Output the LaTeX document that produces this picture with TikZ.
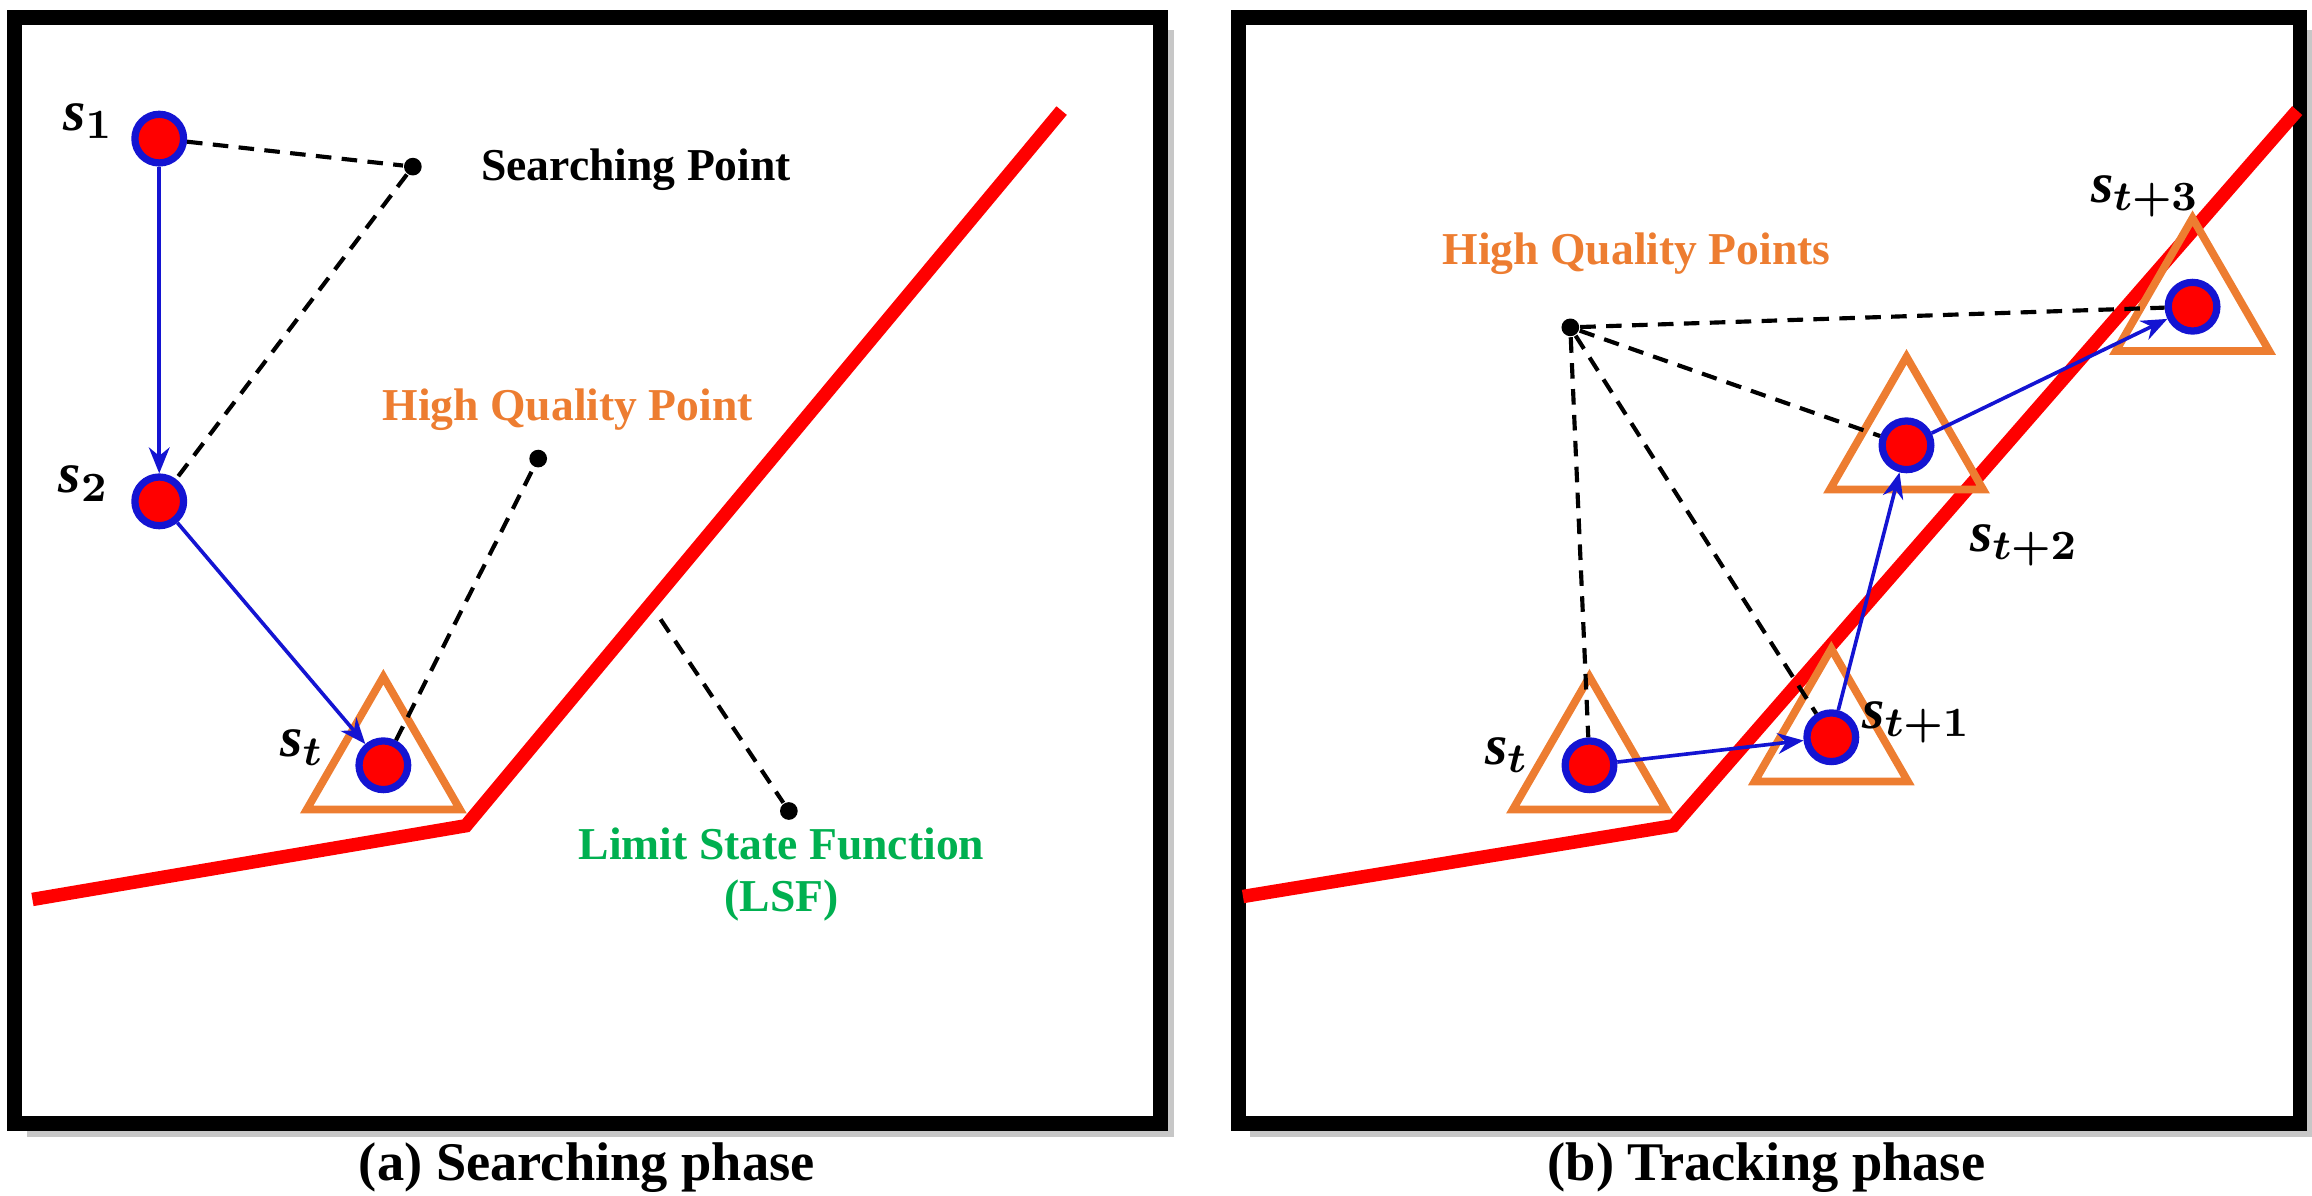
\documentclass[tikz,border=0pt]{standalone}
\usepackage{fontspec}
\setmainfont{Liberation Serif}
\usetikzlibrary{arrows.meta}
\usetikzlibrary{shapes.geometric}
\definecolor{lsfred}{RGB}{255,0,0}
\definecolor{ringblue}{RGB}{20,20,210}
\definecolor{hqorange}{RGB}{237,125,49}
\definecolor{lsfgreen}{RGB}{0,176,80}
\newcommand{\stt}[1]{\textbf{\textit{s}}$_{\boldsymbol{#1}}$}
\usepackage{amsmath}
\tikzset{
	>={Stealth[length=5pt,width=4pt]},
	%
	frame/.style={line width=2.8pt, draw=black},
	shadow/.style={line width=2.2pt, draw=black!22},
	lsf/.style={line width=2.6pt, lsfred},
	state/.style={circle, draw=ringblue, fill=lsfred, line width=1.4pt,
		minimum size=0.33cm, inner sep=0pt},
	hq/.style={regular polygon, regular polygon sides=3, draw=hqorange,
		line width=1.5pt, minimum size=1.2cm, inner sep=0pt},
	dot/.style={circle, fill=black, inner sep=0pt, minimum size=0.12cm},
	link/.style={line width=0.8pt, dash pattern=on 3pt off 2pt},
	move/.style={->, ringblue, line width=0.7pt},
	lbl/.style={font=\bfseries\fontsize{8.8}{10}\selectfont},
	sym/.style={font=\fontsize{11}{12}\selectfont},
	caption/.style={font=\bfseries\fontsize{10.5}{12}\selectfont},
}
\begin{document}
\begin{tikzpicture}[x=0.01cm, y=-0.01cm]
	\useasboundingbox (0,0) rectangle (1568,811);
	% (a) searching phase
	\draw [shadow] (18,767) -- (792,767) -- (792,20);
	\draw [frame] (10,12) rectangle (787,762);
	\draw [lsf] (22,610) -- (316,560) -- (720,75);
	\node (s1) [state] at (108,94) {};
	\node (s2) [state] at (108,340) {};
	\node (tri) [hq] at (260,519) {};
	\node (st) [state] at (260,519) {};
	\node (sp) [dot] at (280,113) {};
	\node (hp) [dot] at (365,311) {};
	\coordinate (lsfpt) at (448,420);
	\node (lp) [dot] at (535,550) {};
	\node [sym] at (60,82) {\stt{1}};
	\node [sym] at (57,328) {\stt{2}};
	\node [sym] at (205,507) {\stt{t}};
	\node [lbl, anchor=west] at (314,115) {Searching Point};
	\node [lbl, text=hqorange] at (385,278) {High Quality Point};
	\node [lbl, text=lsfgreen, align=center] at (530,593) {Limit State Function\\(LSF)};
	\draw [link] (s1) -- (sp) -- (s2);
	\draw [link] (st) -- (hp);
	\draw [link] (lsfpt) -- (lp);
	\draw [move] (s1) -- (s2);
	\draw [move] (s2) -- (st);
	% (b) tracking phase
	\draw [shadow] (848,767) -- (1565,767) -- (1565,20);
	\draw [frame] (840,12) rectangle (1560,762);
	\draw [lsf] (843,608) -- (1135,560) -- (1558,75);
	\foreach \name/\x/\y in {t0/1078/519, t1/1242/500, t2/1293/302, t3/1487/208} {
		\node [hq] at (\x,\y) {};
		\node (\name) [state] at (\x,\y) {};
	}
	\node (hqp) [dot] at (1065,222) {};
	\node [lbl, text=hqorange] at (1110,172) {High Quality Points};
	\node [sym] at (1022,512) {\stt{t}};
	\node [sym] at (1300,490) {\stt{t+1}};
	\node [sym] at (1373,370) {\stt{t+2}};
	\node [sym] at (1455,133) {\stt{t+3}};
	\foreach \to in {t0, t1, t2, t3}
		\draw [link] (hqp) -- (\to);
	\draw [move] (t0) -- (t1);
	\draw [move] (t1) -- (t2);
	\draw [move] (t2) -- (t3);
	% captions
	\node [caption] at (398,792) {(a) Searching phase};
	\node [caption] at (1198,792) {(b) Tracking phase};
\end{tikzpicture}
\end{document}
